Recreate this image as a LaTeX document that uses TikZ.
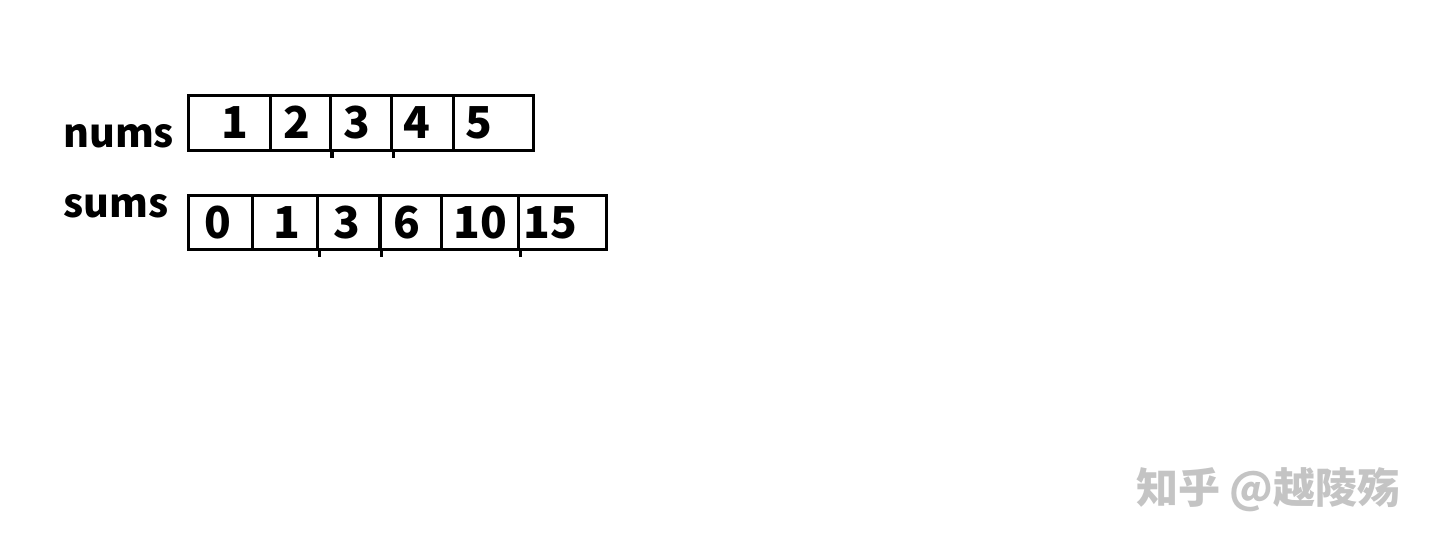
\documentclass[tikz,border=0pt]{standalone}
\usepackage{fontspec}
\setmainfont{Noto Sans CJK SC}
\begin{document}
\begin{tikzpicture}[x=1pt,y=-1pt,
  cell/.style={draw=black, line width=3.4pt, inner sep=0pt, anchor=north west},
  numrow/.style={cell, minimum height=54.5pt},
  sumrow/.style={cell, minimum height=54pt},
  tick/.style={draw=black, line width=3.4pt},
  digit/.style={anchor=base, inner sep=0pt, font=\fontsize{44}{44}\selectfont\bfseries},
  lbl/.style={anchor=base west, inner sep=0pt, font=\fontsize{39.5}{40}\selectfont\bfseries},
  wm/.style={anchor=west, inner sep=0pt, text={rgb,255:red,196;green,196;blue,196}, font=\fontsize{42}{42}\selectfont\bfseries}]
\useasboundingbox (0,0) rectangle (1440,547);
% labels
\node[lbl] (lnums) at (63,147) {nums};
\node[lbl] (lsums) at (63,217) {sums};
% nums cells
\node[numrow, minimum width=82pt]   (n1) at (186.5,94) {};
\node[numrow, minimum width=60pt]   (n2) at (268.5,94) {};
\node[numrow, minimum width=61.5pt] (n3) at (328.5,94) {};
\node[numrow, minimum width=61.5pt] (n4) at (390,94) {};
\node[numrow, minimum width=80.5pt] (n5) at (451.5,94) {};
\draw[tick] (n2.south east) -- ++(0,6.5);
\draw[tick] (n3.south east) -- ++(0,6.5);
% nums digits
\node[digit] (a1) at (235,138) {1};
\node[digit] (a2) at (296.5,138) {2};
\node[digit] (a3) at (357,138) {3};
\node[digit] (a4) at (417,138) {4};
\node[digit] (a5) at (479,138) {5};
% sums cells
\node[sumrow, minimum width=63.5pt] (s1) at (187,193.5) {};
\node[sumrow, minimum width=65.5pt] (s2) at (250.5,193.5) {};
\node[sumrow, minimum width=62.3pt] (s3) at (316,193.5) {};
\node[sumrow, minimum width=61.7pt] (s4) at (378.3,193.5) {};
\node[sumrow, minimum width=77pt]   (s5) at (440,193.5) {};
\node[sumrow, minimum width=88pt]   (s6) at (517,193.5) {};
\draw[tick] (s2.south east) -- ++(0,6);
\draw[tick] (s3.south east) -- ++(0,6);
\draw[tick] (s5.south east) -- ++(0,6);
% sums digits
\node[digit] (b1) at (218,238) {0};
\node[digit] (b2) at (286.7,238) {1};
\node[digit] (b3) at (346.7,238) {3};
\node[digit] (b4) at (407,238) {6};
\node[digit] (b5) at (480.5,238) {10};
\node[digit] (b6) at (550,238) {15};
% watermark
\node[wm] (mark) at (1136,490) {知乎 @越陵殇};
\end{tikzpicture}
\end{document}
